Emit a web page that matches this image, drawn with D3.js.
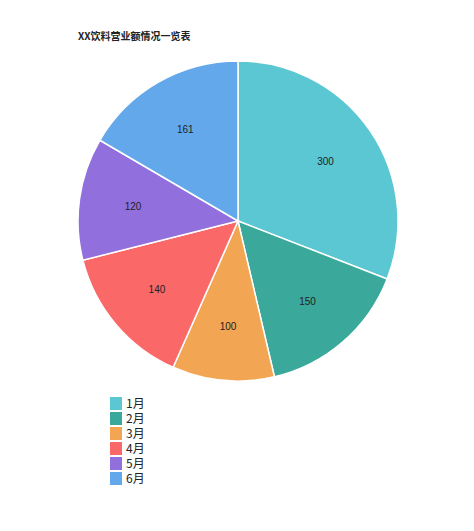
<!DOCTYPE html>
<html lang="zh">
<head>
<meta charset="UTF-8" />
<title>XX饮料营业额情况一览表</title>
<script src="https://cdn.jsdelivr.net/npm/d3@7"></script>
<style>
	body { margin: 0; background: #fff; }
</style>
</head>
<body>
<svg id="vis" width="474" height="531"></svg>
<script>
	// données
	var months = ["1月", "2月", "3月", "4月", "5月", "6月"];
	var values = [300, 150, 100, 140, 120, 161];
	var colors = ["#5bc7d3", "#3aa89b", "#f2a553", "#fa6868", "#9170dd", "#62a8ea"];

	var svg = d3.select("#vis");

	// titre
	svg.append("text")
		.attr("x", 78)
		.attr("y", 40)
		.attr("font-family", "Noto Sans CJK SC, sans-serif")
		.attr("font-size", 10)
		.attr("font-weight", "bold")
		.attr("fill", "#222")
		.text("XX饮料营业额情况一览表");

	var cx = 238, cy = 221, r = 160;

	var pie = d3.pie().sort(null).value(function (d) { return d; });
	var arc = d3.arc().innerRadius(0).outerRadius(r);
	var labelArc = d3.arc().innerRadius(106).outerRadius(106);
	var color = d3.scaleOrdinal().domain(d3.range(values.length)).range(colors);

	var g = svg.append("g").attr("transform", "translate(" + cx + "," + cy + ")");
	var arcs = pie(values);

	g.selectAll("path")
		.data(arcs)
		.enter().append("path")
		.attr("d", arc)
		.attr("fill", function (d, i) { return color(i); })
		.attr("stroke", "#fff")
		.attr("stroke-width", 1.5);

	g.selectAll("text")
		.data(arcs)
		.enter().append("text")
		.attr("transform", function (d) { return "translate(" + labelArc.centroid(d) + ")"; })
		.attr("text-anchor", "middle")
		.attr("dy", "0.35em")
		.attr("font-family", "Arial, Liberation Sans, sans-serif")
		.attr("font-size", 10)
		.attr("fill", "#222")
		.text(function (d) { return d.data; });

	// légende
	var legend = svg.append("g").attr("transform", "translate(110,397)");
	var items = legend.selectAll("g")
		.data(months)
		.enter().append("g")
		.attr("transform", function (d, i) { return "translate(0," + i * 15 + ")"; });

	items.append("rect")
		.attr("width", 12)
		.attr("height", 13)
		.attr("fill", function (d, i) { return color(i); });

	items.append("text")
		.attr("x", 16)
		.attr("y", 11)
		.attr("font-family", "Noto Sans CJK SC, sans-serif")
		.attr("font-size", 12)
		.attr("fill", "#222")
		.text(function (d) { return d; });
</script>
</body>
</html>
